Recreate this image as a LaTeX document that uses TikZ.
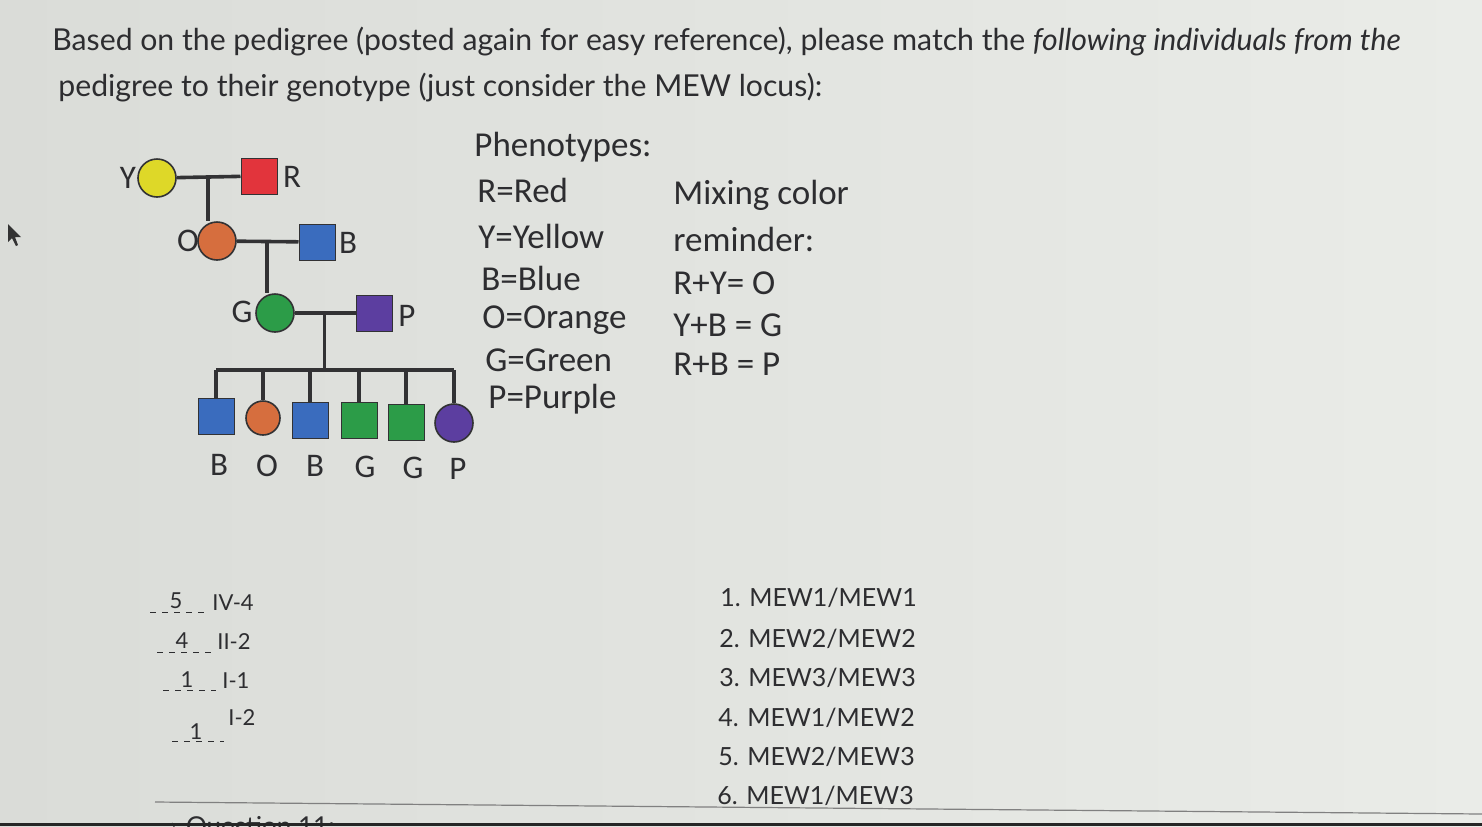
\documentclass[tikz,border=0pt]{standalone}
\usepackage{fontspec}
\setmainfont{Lato}
\newfontfamily\calfont{Carlito}
\usetikzlibrary{calc}

\definecolor{bgleft}{RGB}{218,220,216}
\definecolor{bgright}{RGB}{234,236,232}
\definecolor{inkc}{RGB}{45,45,48}
\definecolor{lnc}{RGB}{50,50,52}
\definecolor{yel}{RGB}{222,216,40}
\definecolor{rd}{RGB}{226,52,60}
\definecolor{bl}{RGB}{58,108,190}
\definecolor{org}{RGB}{214,110,62}
\definecolor{grn}{RGB}{44,156,72}
\definecolor{prp}{RGB}{92,62,160}

\begin{document}
\begin{tikzpicture}[x=0.5pt,y=-0.5pt,
  female/.style={circle,draw=lnc,line width=0.8pt,minimum size=19pt,inner sep=0pt},
  male/.style={rectangle,draw=lnc,line width=0.5pt,minimum size=18pt,inner sep=0pt},
  tag/.style={font=\calfont\fontsize{16.5}{16.5}\selectfont,text=inkc,inner sep=0pt},
  line/.style={draw=lnc,line width=1.8pt},
  phen/.style={font=\calfont\fontsize{17.5}{17.5}\selectfont,text=inkc,anchor=west,inner sep=0pt},
  geno/.style={font=\fontsize{12.5}{12.5}\selectfont,text=inkc,anchor=west,inner sep=0pt},
  ans/.style={font=\fontsize{11}{11}\selectfont,text=inkc,inner sep=0pt}]
  \useasboundingbox (0,0) rectangle (1482,826);
  \clip (0,0) rectangle (1482,826);
  \shade[left color=bgleft,right color=bgright] (0,0) rectangle (1482,826);

  % heading
  \node[anchor=west,inner sep=0pt,text=inkc,font=\fontsize{15.1}{15.1}\selectfont] (head1) at (52,42)
    {Based on the pedigree (posted again for easy reference), please match the \textit{following individuals from the}};
  \node[anchor=west,inner sep=0pt,text=inkc,font=\fontsize{15.1}{15.1}\selectfont] (head2) at (58,88)
    {pedigree to their genotype (just consider the MEW locus):};

  % generation I
  \node[female,fill=yel,minimum width=18pt] (Y) at (157,178) {};
  \node[male,fill=rd] (R) at (259,176) {};
  \node[tag] at (128,178) {Y};
  \node[tag] at (292,177) {R};
  % generation II
  \node[female,fill=org] (O) at (217,241) {};
  \node[male,fill=bl] (B) at (317,242) {};
  \node[tag] at (188,241) {O};
  \node[tag] at (348,243) {B};
  % generation III
  \node[female,fill=grn] (G) at (275,313) {};
  \node[male,fill=prp] (P) at (374,313) {};
  \node[tag] at (242,312) {G};
  \node[tag] at (407,316) {P};
  % generation IV
  \node[male,fill=bl] (c1) at (216,416) {};
  \node[female,fill=org,minimum size=17pt] (c2) at (263,418) {};
  \node[male,fill=bl] (c3) at (310,420) {};
  \node[male,fill=grn] (c4) at (359,420) {};
  \node[male,fill=grn] (c5) at (406,422) {};
  \node[female,fill=prp] (c6) at (454,423) {};
  \node[tag] at (219,465) {B};
  \node[tag] at (267,466) {O};
  \node[tag] at (315,466) {B};
  \node[tag] at (365,467) {G};
  \node[tag] at (413,468) {G};
  \node[tag] at (458,469) {P};

  % matings and descent
  \coordinate (m1) at ($(Y)!0.5!(R)$);
  \coordinate (m2) at ($(O)!0.5!(B)$);
  \coordinate (m3) at ($(G)!0.5!(P)$);
  \coordinate (sib) at (m3 |- 0,370);
  \draw[line] (Y) -- (R);
  \draw[line] (O) -- (B);
  \draw[line] (G) -- (P);
  \draw[line] (m1) -- (m1 |- O.north);
  \draw[line] (m2) -- (m2 |- G.north);
  \draw[line] (m3) -- (sib);
  \draw[line] (c1 |- sib) -- (c6 |- sib);
  \foreach \c in {c1,c2,c3,c4,c5,c6}
    \draw[line] (\c |- sib) -- (\c.north);

  % phenotype key
  \node[phen] (ph0) at (474,147) {Phenotypes:};
  \node[phen] (ph1) at (477,190) {R=Red};
  \node[phen] (ph2) at (478,236) {Y=Yellow};
  \node[phen] (ph3) at (481,278) {B=Blue};
  \node[phen] (ph4) at (482,320) {O=Orange};
  \node[phen] (ph5) at (485,360) {G=Green};
  \node[phen] (ph6) at (488,399) {P=Purple};
  \node[phen] (mx1) at (673,195) {Mixing color};
  \node[phen] (mx2) at (673,239) {reminder:};
  \node[phen] (mx3) at (673,283) {R+Y= O};
  \node[phen] (mx4) at (673,325) {Y+B = G};
  \node[phen] (mx5) at (673,364) {R+B = P};

  % answers
  \draw[inkc,line width=0.5pt,dashed] (150,612) -- (206,612);
  \draw[inkc,line width=0.5pt,dashed] (157,652) -- (211,652);
  \draw[inkc,line width=0.5pt,dashed] (163,690) -- (216,690);
  \draw[inkc,line width=0.5pt,dashed] (172,741) -- (224,741);
  \node[ans] (a1) at (176,601) {5};
  \node[ans] (a2) at (182,641) {4};
  \node[ans] (a3) at (187,680) {1};
  \node[ans] (a4) at (196,732) {1};
  \node[ans,anchor=west] (i1) at (212,603) {IV-4};
  \node[ans,anchor=west] (i2) at (217,642) {II-2};
  \node[ans,anchor=west] (i3) at (222,681) {I-1};
  \node[ans,anchor=west] (i4) at (228,718) {I-2};

  % genotypes
  \node[geno] (g1) at (720,598) {1. MEW1/MEW1};
  \node[geno] (g2) at (719,639) {2. MEW2/MEW2};
  \node[geno] (g3) at (719,678) {3. MEW3/MEW3};
  \node[geno] (g4) at (718,718) {4. MEW1/MEW2};
  \node[geno] (g5) at (718,757) {5. MEW2/MEW3};
  \node[geno] (g6) at (717,796) {6. MEW1/MEW3};

  % page footer
  \draw[gray,line width=0.6pt] (155,802) -- (1482,814);
  \node[anchor=west,inner sep=0pt,text=inkc,font=\fontsize{13}{13}\selectfont] (q) at (155,828) {$\rightarrow$ Question 11:};
  \fill[black!85] (0,823) rectangle (1482,826);

  % pointer
  \fill[black!80] (8,224) -- (8,242) -- (12,238) -- (16,246) -- (18,245) -- (15,237) -- (21,237) -- cycle;
\end{tikzpicture}
\end{document}
